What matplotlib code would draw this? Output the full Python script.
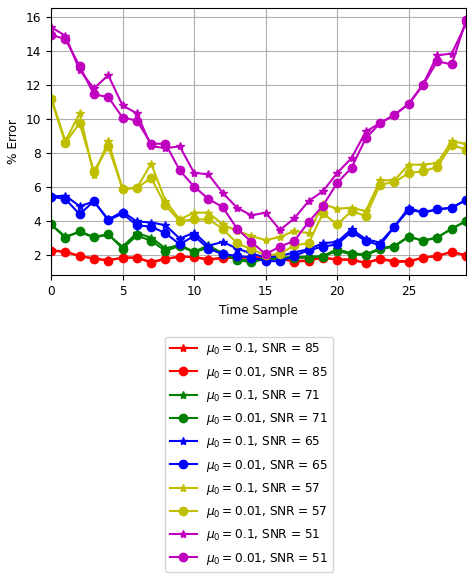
import numpy as np
import matplotlib
matplotlib.use("Agg")
import matplotlib.pyplot as plt


# time axis
timeSamples = np.arange(30)

# SNR = 85 (red)
snr85_mu01 = [2.3, 2.2, 1.95, 1.8, 1.7, 1.85, 1.85, 1.6, 1.8, 1.9, 1.9, 1.75, 1.85, 1.85, 1.9,
              1.85, 1.8, 1.65, 1.7, 1.85, 1.75, 1.75, 1.55, 1.8, 1.65, 1.65, 1.85, 1.95, 2.2, 2.0]
snr85_mu001 = [2.25, 2.2, 1.95, 1.8, 1.68, 1.86, 1.86, 1.55, 1.78, 1.92, 1.88, 1.73, 1.83, 1.85, 1.85,
               1.8, 1.78, 1.62, 1.67, 1.86, 1.73, 1.73, 1.53, 1.77, 1.61, 1.61, 1.86, 1.96, 2.19, 1.96]

# SNR = 71 (green)
snr71_mu01 = [3.8, 3.1, 3.35, 3.05, 3.2, 2.5, 3.3, 3.03, 2.4, 2.6, 2.2, 2.58, 2.1, 1.8, 1.65,
              1.85, 1.85, 1.9, 1.9, 1.95, 2.35, 2.1, 2.05, 2.4, 2.55, 3.1, 2.85, 3.05, 3.55, 4.0]
snr71_mu001 = [3.81, 3.03, 3.4, 3.07, 3.23, 2.39, 3.16, 2.84, 2.25, 2.55, 2.16, 2.45, 2.06, 1.73, 1.57,
               1.8, 1.77, 1.83, 1.86, 1.92, 2.25, 2.06, 2.0, 2.35, 2.5, 3.09, 2.84, 3.03, 3.56, 4.0]

# SNR = 65 (blue)
snr65_mu01 = [5.45, 5.5, 4.88, 5.15, 4.1, 4.55, 3.98, 3.92, 3.76, 2.97, 3.33, 2.55, 2.78, 2.39, 2.1,
              1.86, 1.96, 2.16, 2.35, 2.7, 2.78, 3.52, 2.94, 2.74, 3.68, 4.79, 4.5, 4.69, 4.79, 5.24]
snr65_mu001 = [5.43, 5.31, 4.4, 5.18, 4.05, 4.45, 3.75, 3.68, 3.29, 2.64, 3.13, 2.39, 2.06, 1.96, 1.86,
               1.67, 1.63, 1.96, 2.29, 2.5, 2.64, 3.36, 2.84, 2.58, 3.68, 4.65, 4.53, 4.69, 4.79, 5.24]

# SNR = 57 (yellow)
snr57_mu01 = [11.3, 8.7, 10.34, 6.7, 8.7, 5.9, 5.95, 7.38, 5.18, 4.1, 4.5, 4.5, 3.81, 3.42, 3.13,
              2.88, 3.07, 3.42, 3.29, 5.0, 4.73, 4.79, 4.59, 6.4, 6.4, 7.32, 7.32, 7.42, 8.69, 8.55]
snr57_mu001 = [11.2, 8.6, 9.76, 6.93, 8.39, 5.9, 5.95, 6.54, 4.92, 4.0, 4.1, 4.1, 3.56, 2.7, 2.35,
               2.0, 2.06, 2.58, 2.7, 4.45, 3.81, 4.59, 4.3, 6.15, 6.29, 6.83, 6.93, 7.19, 8.49, 8.2]

# SNR = 51 (magenta)
snr51_mu01 = [15.41, 14.9, 12.88, 11.8, 12.58, 10.8, 10.34, 8.4, 8.3, 8.39, 6.84, 6.75, 5.66, 4.79, 4.34,
              4.5, 3.48, 4.16, 5.18, 5.76, 6.83, 7.71, 9.27, 9.76, 10.25, 10.89, 12.05, 13.75, 13.85, 15.6]
snr51_mu001 = [14.96, 14.7, 13.12, 11.45, 11.3, 10.09, 9.91, 8.55, 8.55, 6.98, 6.03, 5.31, 4.82, 3.56, 2.78,
               2.06, 2.5, 2.84, 3.95, 4.9, 6.25, 7.13, 8.88, 9.76, 10.25, 10.89, 12.0, 13.4, 13.21, 15.8]

snrValues = [85, 71, 65, 57, 51]
colors = ["r", "g", "b", "y", "m"]
seriesMu01 = [snr85_mu01, snr71_mu01, snr65_mu01, snr57_mu01, snr51_mu01]
seriesMu001 = [snr85_mu001, snr71_mu001, snr65_mu001, snr57_mu001, snr51_mu001]

plt.rcParams["font.size"] = 8.7

fig = plt.figure(figsize=(4.74, 5.83), dpi=100)
ax = fig.add_axes([0.1076, 0.5278, 0.8755, 0.458])

for snr, col, s1, s2 in zip(snrValues, colors, seriesMu01, seriesMu001):
    ax.plot(timeSamples, s1, color=col, marker="*", label=rf"$\mu_0 = 0.1$, SNR = {snr}")
    ax.plot(timeSamples, s2, color=col, marker="o", label=rf"$\mu_0 = 0.01$, SNR = {snr}")

ax.set_xlim(0, 29)
ax.grid(True)
ax.set_xlabel("Time Sample")
ax.set_ylabel("% Error")

# legend sits under the axes
fig.legend(loc="upper center", bbox_to_anchor=(0.526, 0.433),
           labelspacing=0.6, handlelength=2.2)

fig.savefig("out.png", dpi=100)
